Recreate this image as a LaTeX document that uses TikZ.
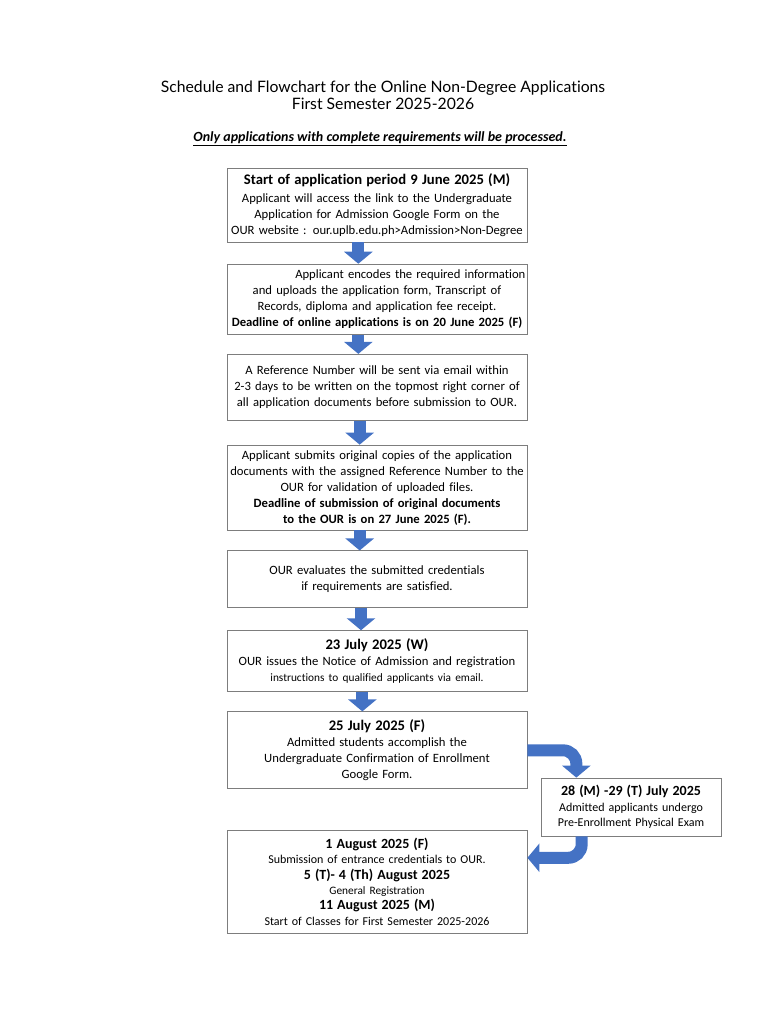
\documentclass[tikz,border=0pt]{standalone}
\usepackage{fontspec}
\setmainfont{Carlito}[Ligatures=NoCommon]
\newfontfamily\titlefont{Lato}[Ligatures=NoCommon]
\usetikzlibrary{positioning,arrows.meta}

\definecolor{arrowblue}{RGB}{68,114,196}
\definecolor{boxgray}{RGB}{125,125,125}

\newcommand{\hdbig}{\fontsize{11}{13.5}\selectfont\bfseries}
\newcommand{\hdmid}{\fontsize{10.5}{12.5}\selectfont\bfseries}
\newcommand{\txt}{\fontsize{9.5}{12}\selectfont}
\newcommand{\txtsm}{\fontsize{9}{11.5}\selectfont}
\newcommand{\txttiny}{\fontsize{8.5}{11}\selectfont}

\tikzset{
  stepbox/.style={draw=boxgray, line width=0.6pt, fill=white, align=center,
    inner xsep=1pt, inner ysep=2pt, text width=223pt, font=\txt},
  flow/.style={draw=arrowblue, line width=9pt, -{Triangle[width=21pt,length=9pt]}},
}

\begin{document}
\begin{tikzpicture}[x=0.75pt,y=-0.75pt]
   \useasboundingbox (0,0) rectangle (768,1024);
   % heading
   \node[align=center, font=\titlefont\fontsize{11.8}{12.75}\selectfont] (title) at (383,95)
      {Schedule and Flowchart for the Online Non-Degree Applications\\
       First Semester 2025-2026};
   \node[align=center] (note) at (380,139) {\fontsize{10.5}{12}\selectfont
      \underline{\textbf{\textit{Only applications with complete requirements will be processed.}}}};
   % main column
   \node[stepbox, minimum height=55.5pt] (0) at (377,205)
      {{\hdbig Start of application period 9 June 2025 (M)}\\[1pt]
       Applicant will access the link to the Undergraduate\\
       Application for Admission Google Form on the\\
       OUR website : our.uplb.edu.ph>Admission>Non-Degree};
   \node[stepbox, minimum height=52.5pt, below=16pt of 0] (1)
      {\hspace*{50pt}Applicant encodes the required information\\
       and uploads the application form, Transcript of\\
       Records, diploma and application fee receipt.\\
       \textbf{Deadline of online applications is on 20 June 2025 (F)}};
   \node[stepbox, minimum height=49.5pt, below=14.5pt of 1] (2)
      {A Reference Number will be sent via email within\\
       2-3 days to be written on the topmost right corner of\\
       all application documents before submission to OUR.};
   \node[stepbox, minimum height=63.75pt, below=18pt of 2] (3)
      {Applicant submits original copies of the application\\
       documents with the assigned Reference Number to the\\
       OUR for validation of uploaded files.\\
       \textbf{Deadline of submission of original documents}\\
       \textbf{to the OUR is on 27 June 2025 (F).}};
   \node[stepbox, minimum height=42.75pt, below=15pt of 3] (4)
      {OUR evaluates the submitted credentials\\
       if requirements are satisfied.};
   \node[stepbox, minimum height=45.75pt, below=16.5pt of 4] (5)
      {{\hdbig 23 July 2025 (W)}\\
       OUR issues the Notice of Admission and registration\\
       {\txttiny instructions to qualified applicants via email.}};
   \node[stepbox, minimum height=57.75pt, below=14.5pt of 5] (6)
      {{\hdbig 25 July 2025 (F)}\\
       Admitted students accomplish the\\
       Undergraduate Confirmation of Enrollment\\
       Google Form.};
   \node[stepbox, text width=133pt, minimum height=43.5pt, font=\txtsm] (7) at (631,807)
      {{\hdmid 28 (M) -29 (T) July 2025}\\
       Admitted applicants undergo\\
       Pre-Enrollment Physical Exam};
   \node[stepbox, minimum height=77.25pt, below=30.5pt of 6, font=\txtsm] (8)
      {{\hdmid 1 August 2025 (F)}\\
       Submission of entrance credentials to OUR.\\
       {\hdmid 5 (T)- 4 (Th) August 2025}\\
       {\txttiny General Registration}\\
       {\hdmid 11 August 2025 (M)}\\
       Start of Classes for First Semester 2025-2026};
   % arrows
   \draw[flow] ([xshift=-14pt]0.south) -- ([xshift=-14pt]1.north);
   \draw[flow] ([xshift=-14pt]1.south) -- ([xshift=-14pt]2.north);
   \draw[flow] ([xshift=-13pt]2.south) -- ([xshift=-13pt]3.north);
   \draw[flow] ([xshift=-13pt]3.south) -- ([xshift=-13pt]4.north);
   \draw[flow] ([xshift=-12pt]4.south) -- ([xshift=-12pt]5.north);
   \draw[flow] ([xshift=-11pt]5.south) -- ([xshift=-11pt]6.north);
   \draw[flow, rounded corners=10pt] (6.east) -| ([xshift=-41pt]7.north);
   \draw[flow, rounded corners=10pt] ([xshift=-37pt]7.south) |- ([yshift=18pt]8.east);
\end{tikzpicture}
\end{document}
